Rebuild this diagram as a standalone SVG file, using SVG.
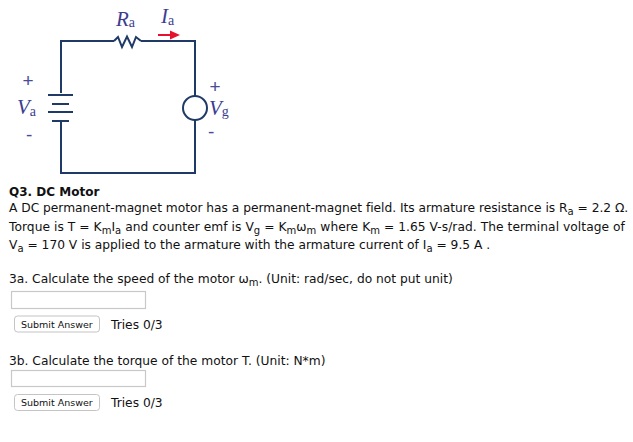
<svg xmlns="http://www.w3.org/2000/svg" width="633" height="442" viewBox="0 0 633 442">
<style>
.t{font-family:"DejaVu Sans",Verdana,sans-serif;font-size:12.25px;fill:#111}
.b{font-weight:bold;font-size:12px}
.s{font-size:10px}
.w{fill:none;stroke:#1f3a66;stroke-width:2}
.c{font-family:"Liberation Serif",serif;font-size:21px;fill:#3d3d8f}
.ci{font-style:italic}
.cs{font-size:14px}
.p{font-family:"Liberation Sans",sans-serif;font-size:19px;fill:#4a4a96}
.box{fill:#fff;stroke:#c8c8c8;stroke-width:1.2}
.btn{fill:#fff;stroke:#c4c4c4;stroke-width:1}
.bt{font-family:"DejaVu Sans",Verdana,sans-serif;font-size:9.5px;fill:#111}
</style>
<rect width="633" height="442" fill="#fff"/>
<g id="connectors">
<path class="w" d="M61 93V41H114M141 41H195V96M195 120V173H61V122"/>
<path d="M158 35H174" fill="none" stroke="#e8112d" stroke-width="2"/>
<path d="M170 30.500L180 35L170 39.500Z" fill="#e8112d"/>
</g>
<g id="resistor"><path class="w" d="M114 41L118 37L122 47L127 36.500L132 47L136 37L141 41"/></g>
<g id="battery">
<path class="w" d="M48 95H73M52 104H69M48 112H73M52 121H69"/>
</g>
<g id="generator"><circle class="w" cx="195" cy="108" r="12" fill="#fff" stroke-width="2.200"/></g>
<g id="labels">
<text class="c" x="116" y="26"><tspan class="ci">R</tspan><tspan class="cs" dy="1">a</tspan></text>
<text class="c" x="161" y="23"><tspan class="ci">I</tspan><tspan class="cs" dy="2">a</tspan></text>
<text class="c" x="17" y="114"><tspan class="ci">V</tspan><tspan class="cs" dy="2">a</tspan></text>
<text class="c" x="209" y="115"><tspan class="ci">V</tspan><tspan class="cs" dy="1">g</tspan></text>
<text class="p" x="22.500" y="87">+</text>
<text class="p" x="209.500" y="93">+</text>
<text class="p" x="26" y="141">-</text>
<text class="p" x="208" y="138">-</text>
</g>
<g id="question">
<text class="t b" x="9" y="196">Q3. DC Motor</text>
<text class="t" x="9" y="212" letter-spacing="-0.02">A DC permanent-magnet motor has a permanent-magnet field. Its armature resistance is R<tspan class="s" dy="3">a</tspan><tspan dy="-3"> = 2.2 Ω.</tspan></text>
<text class="t" x="9" y="231" letter-spacing="0.045">Torque is T = K<tspan class="s" dy="3">m</tspan><tspan dy="-3">I</tspan><tspan class="s" dy="3">a</tspan><tspan dy="-3"> and counter emf is V</tspan><tspan class="s" dy="3">g</tspan><tspan dy="-3"> = K</tspan><tspan class="s" dy="3">m</tspan><tspan dy="-3">ω</tspan><tspan class="s" dy="3">m</tspan><tspan dy="-3"> where K</tspan><tspan class="s" dy="3">m</tspan><tspan dy="-3"> = 1.65 V-s/rad. The terminal voltage of</tspan></text>
<text class="t" x="9" y="249">V<tspan class="s" dy="3">a</tspan><tspan dy="-3"> = 170 V is applied to the armature with the armature current of I</tspan><tspan class="s" dy="3">a</tspan><tspan dy="-3"> = 9.5 A .</tspan></text>
<text class="t" x="9" y="283">3a. Calculate the speed of the motor ω<tspan class="s" dy="3">m</tspan><tspan dy="-3">. (Unit: rad/sec, do not put unit)</tspan></text>
<text class="t" x="9" y="365">3b. Calculate the torque of the motor T. (Unit: N*m)</text>
</g>
<g id="answer-a">
<rect class="box" x="11.500" y="291.500" width="134" height="17"/>
<rect class="btn" x="14.500" y="316" width="85" height="16" rx="3"/>
<text class="bt" x="21" y="328">Submit Answer</text>
<text class="t" x="111" y="329">Tries 0/3</text>
</g>
<g id="answer-b">
<rect class="box" x="11.500" y="370.500" width="134" height="16"/>
<rect class="btn" x="14.500" y="394.500" width="85" height="16" rx="3"/>
<text class="bt" x="21" y="406">Submit Answer</text>
<text class="t" x="111" y="407">Tries 0/3</text>
</g>
</svg>
